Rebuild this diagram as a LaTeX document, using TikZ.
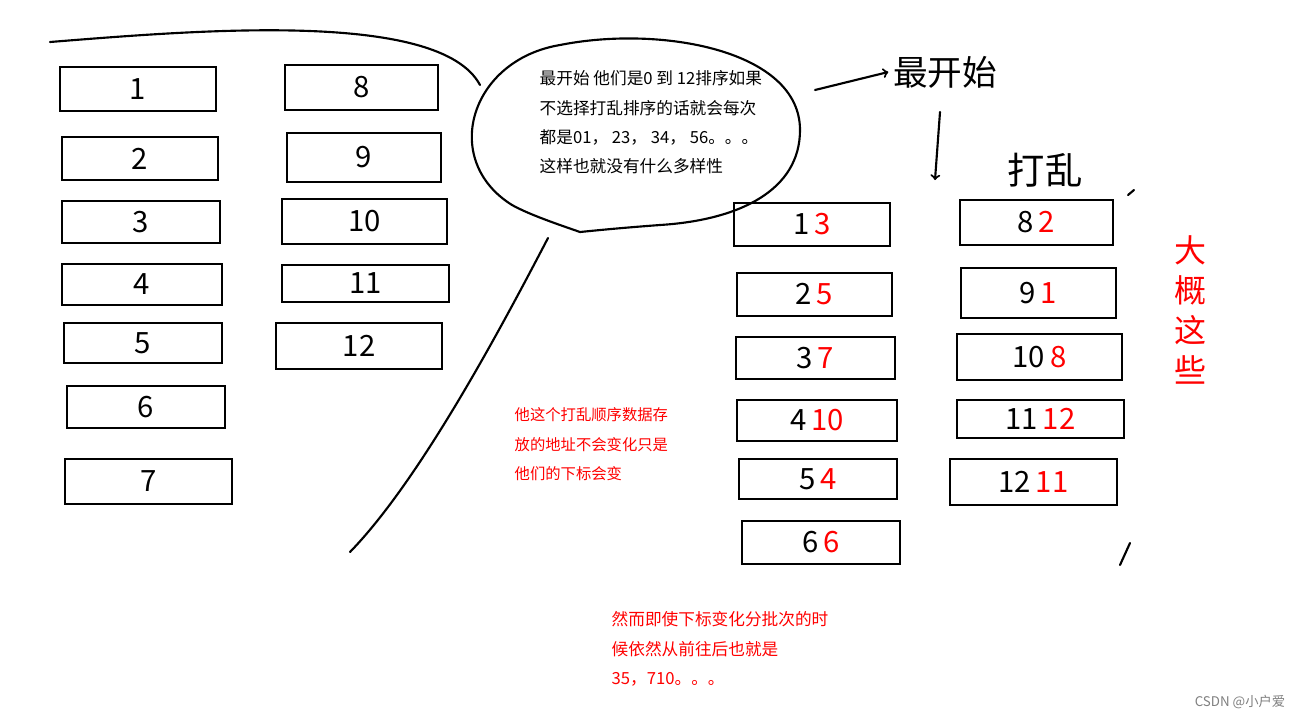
\documentclass[tikz,border=0pt]{standalone}
\usepackage{fontspec}
\setmainfont{Noto Sans CJK SC}
\begin{document}
\begin{tikzpicture}[x=0.75pt,y=-0.75pt,
  bx/.style={draw,line width=2pt},
  hw/.style={font=\fontsize{22}{22}\selectfont},
  rd/.style={red,font=\fontsize{22}{22}\selectfont},
  txt/.style={font=\fontsize{11.5}{22}\selectfont,align=left,anchor=north west},
  pen/.style={line width=1.6pt,line cap=round}]
\useasboundingbox[fill=white] (0,0) rectangle (1302,719);
% left columns
\foreach \a/\b/\c/\d/\t [count=\i] in {60/67/216/111/1,62/137/218/180/2,62/201/220/243/3,62/264/222/305/4,64/323/222/363/5,67/386/225/428/6,65/459/232/504/7,285/65/438/110/8,287/133/441/182/9,282/199/447/244/10,282/265/449/302/11,276/323/442/369/12}
  \node[bx,hw,minimum width={(\c-\a)*0.75pt},minimum height={(\d-\b)*0.75pt}] (L\i) at ({(\a+\c)/2},{(\b+\d)/2}) {\t};
% right column A
\foreach \a/\b/\c/\d/\s/\t [count=\i] in {734/203/890/246/1/3,737/273/892/316/2/5,736/337/895/379/3/7,737/400/897/441/4/10,739/459/897/499/5/4,742/521/900/564/6/6}
  \node[bx,minimum width={(\c-\a)*0.75pt},minimum height={(\d-\b)*0.75pt}] (A\i) at ({(\a+\c)/2},{(\b+\d)/2}) {{\fontsize{22}{22}\selectfont\s\,\textcolor{red}{\t}}};
\foreach \a/\b/\c/\d/\s/\t [count=\i] in {960/200/1113/245/8/2,961/268/1116/318/9/1,957/334/1122/380/10/8,957/400/1124/438/11/12,950/459/1117/505/12/11}
  \node[bx,minimum width={(\c-\a)*0.75pt},minimum height={(\d-\b)*0.75pt}] (B\i) at ({(\a+\c)/2},{(\b+\d)/2}) {{\fontsize{22}{22}\selectfont\s\,\textcolor{red}{\t}}};
% strokes
\draw[pen] (50,42) .. controls (200,30) and (440,10) .. (480,85);
\draw[pen] (350,552) .. controls (420,480) and (500,330) .. (548,238);
\draw[pen] (512,205) .. controls (440,160) and (470,60) .. (560,45) .. controls (660,25) and (800,50) .. (800,130) .. controls (800,190) and (740,220) .. (660,225) .. controls (620,228) and (600,230) .. (580,232) .. controls (560,225) and (530,215) .. (512,205);
\node[txt,font=\fontsize{12.5}{22}\selectfont] (bub) at (535,66) {最开始 他们是0 到 12排序如果\\不选择打乱排序的话就会每次\\都是01， 23， 34， 56。。。\\这样也就没有什么多样性};
\node[font=\fontsize{26}{26}\selectfont] (zk) at (945,72) {最开始};
\coordinate (as) at (815,90);
\draw[pen,->] (as) -- (zk.west);
\node[font=\fontsize{28}{28}\selectfont] (dl) at (1045,170) {打乱};
\coordinate (d1) at (940,112);
\coordinate (d2) at (935,180);
\draw[pen,->] (d1) -- (d2);
\node[red,font=\fontsize{24}{30}\selectfont,align=center] (dg) at (1190,310) {大\\概\\这\\些};
\draw[pen] (1128,195) -- (1134,190);
\draw[pen] (1120,565) -- (1130,543);
\node[txt,red] (r1) at (510,403) {他这个打乱顺序数据存\\放的地址不会变化只是\\他们的下标会变};
\node[txt,red,font=\fontsize{12.5}{22}\selectfont] (r2) at (607,607) {然而即使下标变化分批次的时\\候依然从前往后也就是\\35，710。。。};
\node[gray,font=\fontsize{10}{10}\selectfont] (wm) at (1240,702) {CSDN @小户爱};
\end{tikzpicture}
\end{document}
